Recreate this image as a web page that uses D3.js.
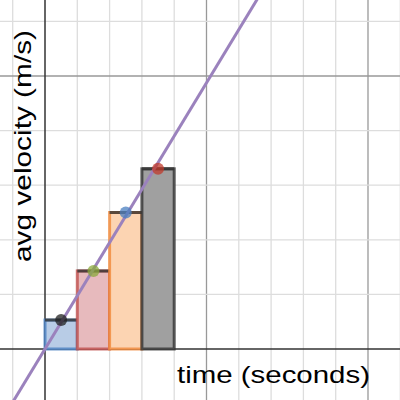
<!DOCTYPE html><html><head><script src="https://cdn.jsdelivr.net/npm/d3@7"></script>
<style>body{margin:0}</style></head><body><svg id="c" width="400" height="400"></svg><script>
const intervals=[0,1,2,3];
const avgVel=[0.53,1.43,2.5,3.3];
const fills=["#b8cce6","#e7babd","#fcd4b2","#a0a0a0"];
const strokes=["#4a7fc0","#c0504d","#f0883a","#333333"];
const dots=["#222","#8aa83c","#4a7fc0","#c0392b"];
const lineSlope=0.975;
const svg=d3.select("#c");
const x=d3.scaleLinear().domain([-45/32.3,355/32.3]).range([0,400]);
const y=d3.scaleLinear().domain([-51/54.6,349/54.6]).range([400,0]);
svg.append("rect").attr("width",400).attr("height",400).attr("fill","#fff");
for(let i=-1;i<=11;i++){svg.append("line").attr("x1",x(i)).attr("x2",x(i)).attr("y1",0).attr("y2",400).attr("stroke",i%5==0?"#999":"#ddd").attr("stroke-width",i==0?0:1.3);}
for(let j=-1;j<=6;j++){svg.append("line").attr("y1",y(j)).attr("y2",y(j)).attr("x1",0).attr("x2",400).attr("stroke",j%5==0?"#999":"#ddd").attr("stroke-width",j==0?0:1.3);}
svg.append("line").attr("x1",x(0)).attr("x2",x(0)).attr("y1",0).attr("y2",400).attr("stroke","#333").attr("stroke-width",1.5);
svg.append("line").attr("y1",y(0)).attr("y2",y(0)).attr("x1",0).attr("x2",400).attr("stroke","#333").attr("stroke-width",1.5);
intervals.forEach((t,i)=>{
 svg.append("rect").attr("x",x(t)).attr("y",y(avgVel[i])).attr("width",x(t+1)-x(t)).attr("height",y(0)-y(avgVel[i])).attr("fill",fills[i]).attr("stroke",strokes[i]).attr("stroke-width",3).attr("stroke-opacity",0.8);
 svg.append("line").attr("x1",x(t)).attr("x2",x(t+1)).attr("y1",y(avgVel[i])).attr("y2",y(avgVel[i])).attr("stroke","#333").attr("stroke-width",3).attr("stroke-opacity",0.8);
});
svg.append("line").attr("x1",x(-1.5)).attr("y1",y(-1.5*lineSlope)).attr("x2",x(8)).attr("y2",y(8*lineSlope)).attr("stroke","#9b82bd").attr("stroke-width",3);
intervals.forEach((t,i)=>{svg.append("circle").attr("cx",x(t+0.5)).attr("cy",y(avgVel[i])).attr("r",6).attr("fill",dots[i]).attr("opacity",0.75);});
svg.append("text").attr("x",177).attr("y",383).attr("font-family","Arial, Liberation Sans, sans-serif").attr("font-size",24).attr("textLength",193).attr("lengthAdjust","spacingAndGlyphs").text("time (seconds)");
svg.append("text").attr("transform","translate(31,146) rotate(-90)").attr("text-anchor","middle").attr("font-family","Arial, Liberation Sans, sans-serif").attr("font-size",24).attr("textLength",232).attr("lengthAdjust","spacingAndGlyphs").text("avg velocity (m/s)");
</script></body></html>
